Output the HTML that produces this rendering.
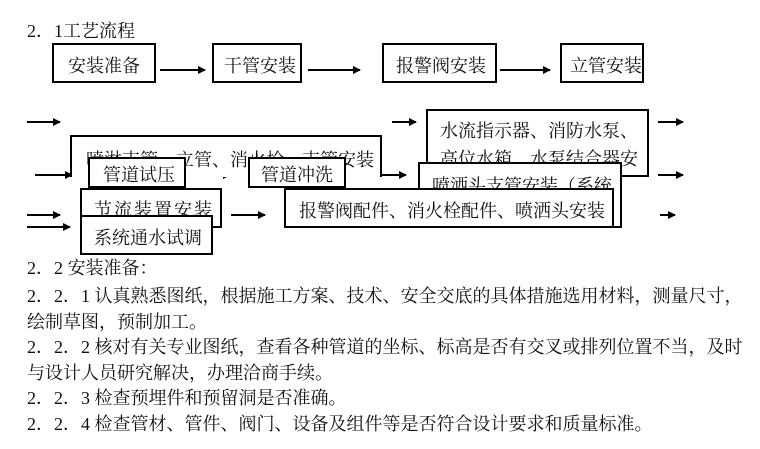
<!DOCTYPE html>
<html><head><meta charset="utf-8"><style>
body{margin:0;width:760px;height:449px;background:#fff;position:relative;overflow:hidden;font-family:"Liberation Serif","Noto Serif CJK SC",serif;color:#111}
.t{position:absolute;left:27px;font-size:18px;white-space:nowrap;line-height:20px}
.b{position:absolute;border:2px solid #000;background:#fff;box-sizing:border-box;font-size:18px;white-space:nowrap;overflow:hidden}
svg{position:absolute;left:0;top:0}
</style></head><body>
<svg width="760" height="449">
<defs><marker id="a" markerWidth="8" markerHeight="8" refX="7" refY="4" orient="auto" markerUnits="userSpaceOnUse"><path d="M0,0 L8,4 L0,8 z" fill="#000"/></marker></defs>
<g stroke="#000" stroke-width="2" marker-end="url(#a)">
<line x1="160" y1="70" x2="205" y2="70"/>
<line x1="308" y1="70" x2="360" y2="70"/>
<line x1="500" y1="70" x2="550" y2="70"/>
<line x1="27" y1="122" x2="60" y2="122"/>
<line x1="392" y1="122" x2="416" y2="122"/>
<line x1="658" y1="122" x2="683" y2="122"/>
<line x1="35" y1="175" x2="72" y2="175"/>
<line x1="186" y1="175" x2="230" y2="175"/>
<line x1="346" y1="175" x2="406" y2="175"/>
<line x1="658" y1="175" x2="683" y2="175"/>
<line x1="27" y1="215" x2="60" y2="215"/>
<line x1="27" y1="227" x2="70" y2="227"/>
<line x1="231" y1="215" x2="265" y2="215"/>
<line x1="660" y1="215" x2="675" y2="215"/>
</g></svg>
<div class="t" style="top:21px">2．1工艺流程</div>
<div class="b" style="left:52px;top:43px;width:104px;height:40px;padding:7px 0 0 14px">安装准备</div>
<div class="b" style="left:212px;top:43px;width:90px;height:40px;padding:7px 0 0 10px">干管安装</div>
<div class="b" style="left:382px;top:43px;width:115px;height:40px;padding:7px 0 0 12px">报警阀安装</div>
<div class="b" style="left:560px;top:43px;width:84px;height:40px;padding:7px 0 0 8px">立管安装</div>
<div class="b" style="left:70px;top:135px;width:312px;height:42px;padding:9px 0 0 14px;border-bottom:none">喷淋支管、立管、消火栓、支管安装</div>
<div class="b" style="left:426px;top:109px;width:223px;height:68px;padding:6px 0 0 12px;line-height:28px">水流指示器、消防水泵、<br>高位水箱、水泵结合器安</div>
<div class="b" style="left:88px;top:157px;width:98px;height:31px;padding:2px 0 0 13px">管道试压</div>
<div class="b" style="left:248px;top:157px;width:98px;height:31px;padding:2px 0 0 11px">管道冲洗</div>
<div class="b" style="left:418px;top:162px;width:204px;height:66px;padding:8px 0 0 12px">喷洒头支管安装（系统</div>
<div class="b" style="left:80px;top:188px;width:142px;height:40px;padding:6px 0 0 12px;letter-spacing:2px">节流装置安装</div>
<div class="b" style="left:284px;top:188px;width:330px;height:40px;padding:7px 0 0 13px">报警阀配件、消火栓配件、喷洒头安装</div>
<div class="b" style="left:80px;top:215px;width:133px;height:40px;padding:7px 0 0 12px">系统通水试调</div>
<div class="t" style="top:258px">2．2 安装准备：</div>
<div class="t" style="top:286px">2．2．1 认真熟悉图纸，根据施工方案、技术、安全交底的具体措施选用材料，测量尺寸，</div>
<div class="t" style="top:312px">绘制草图，预制加工。</div>
<div class="t" style="top:337px">2．2．2 核对有关专业图纸，查看各种管道的坐标、标高是否有交叉或排列位置不当，及时</div>
<div class="t" style="top:363px">与设计人员研究解决，办理洽商手续。</div>
<div class="t" style="top:388px">2．2．3 检查预埋件和预留洞是否准确。</div>
<div class="t" style="top:414px">2．2．4 检查管材、管件、阀门、设备及组件等是否符合设计要求和质量标准。</div>
</body></html>
